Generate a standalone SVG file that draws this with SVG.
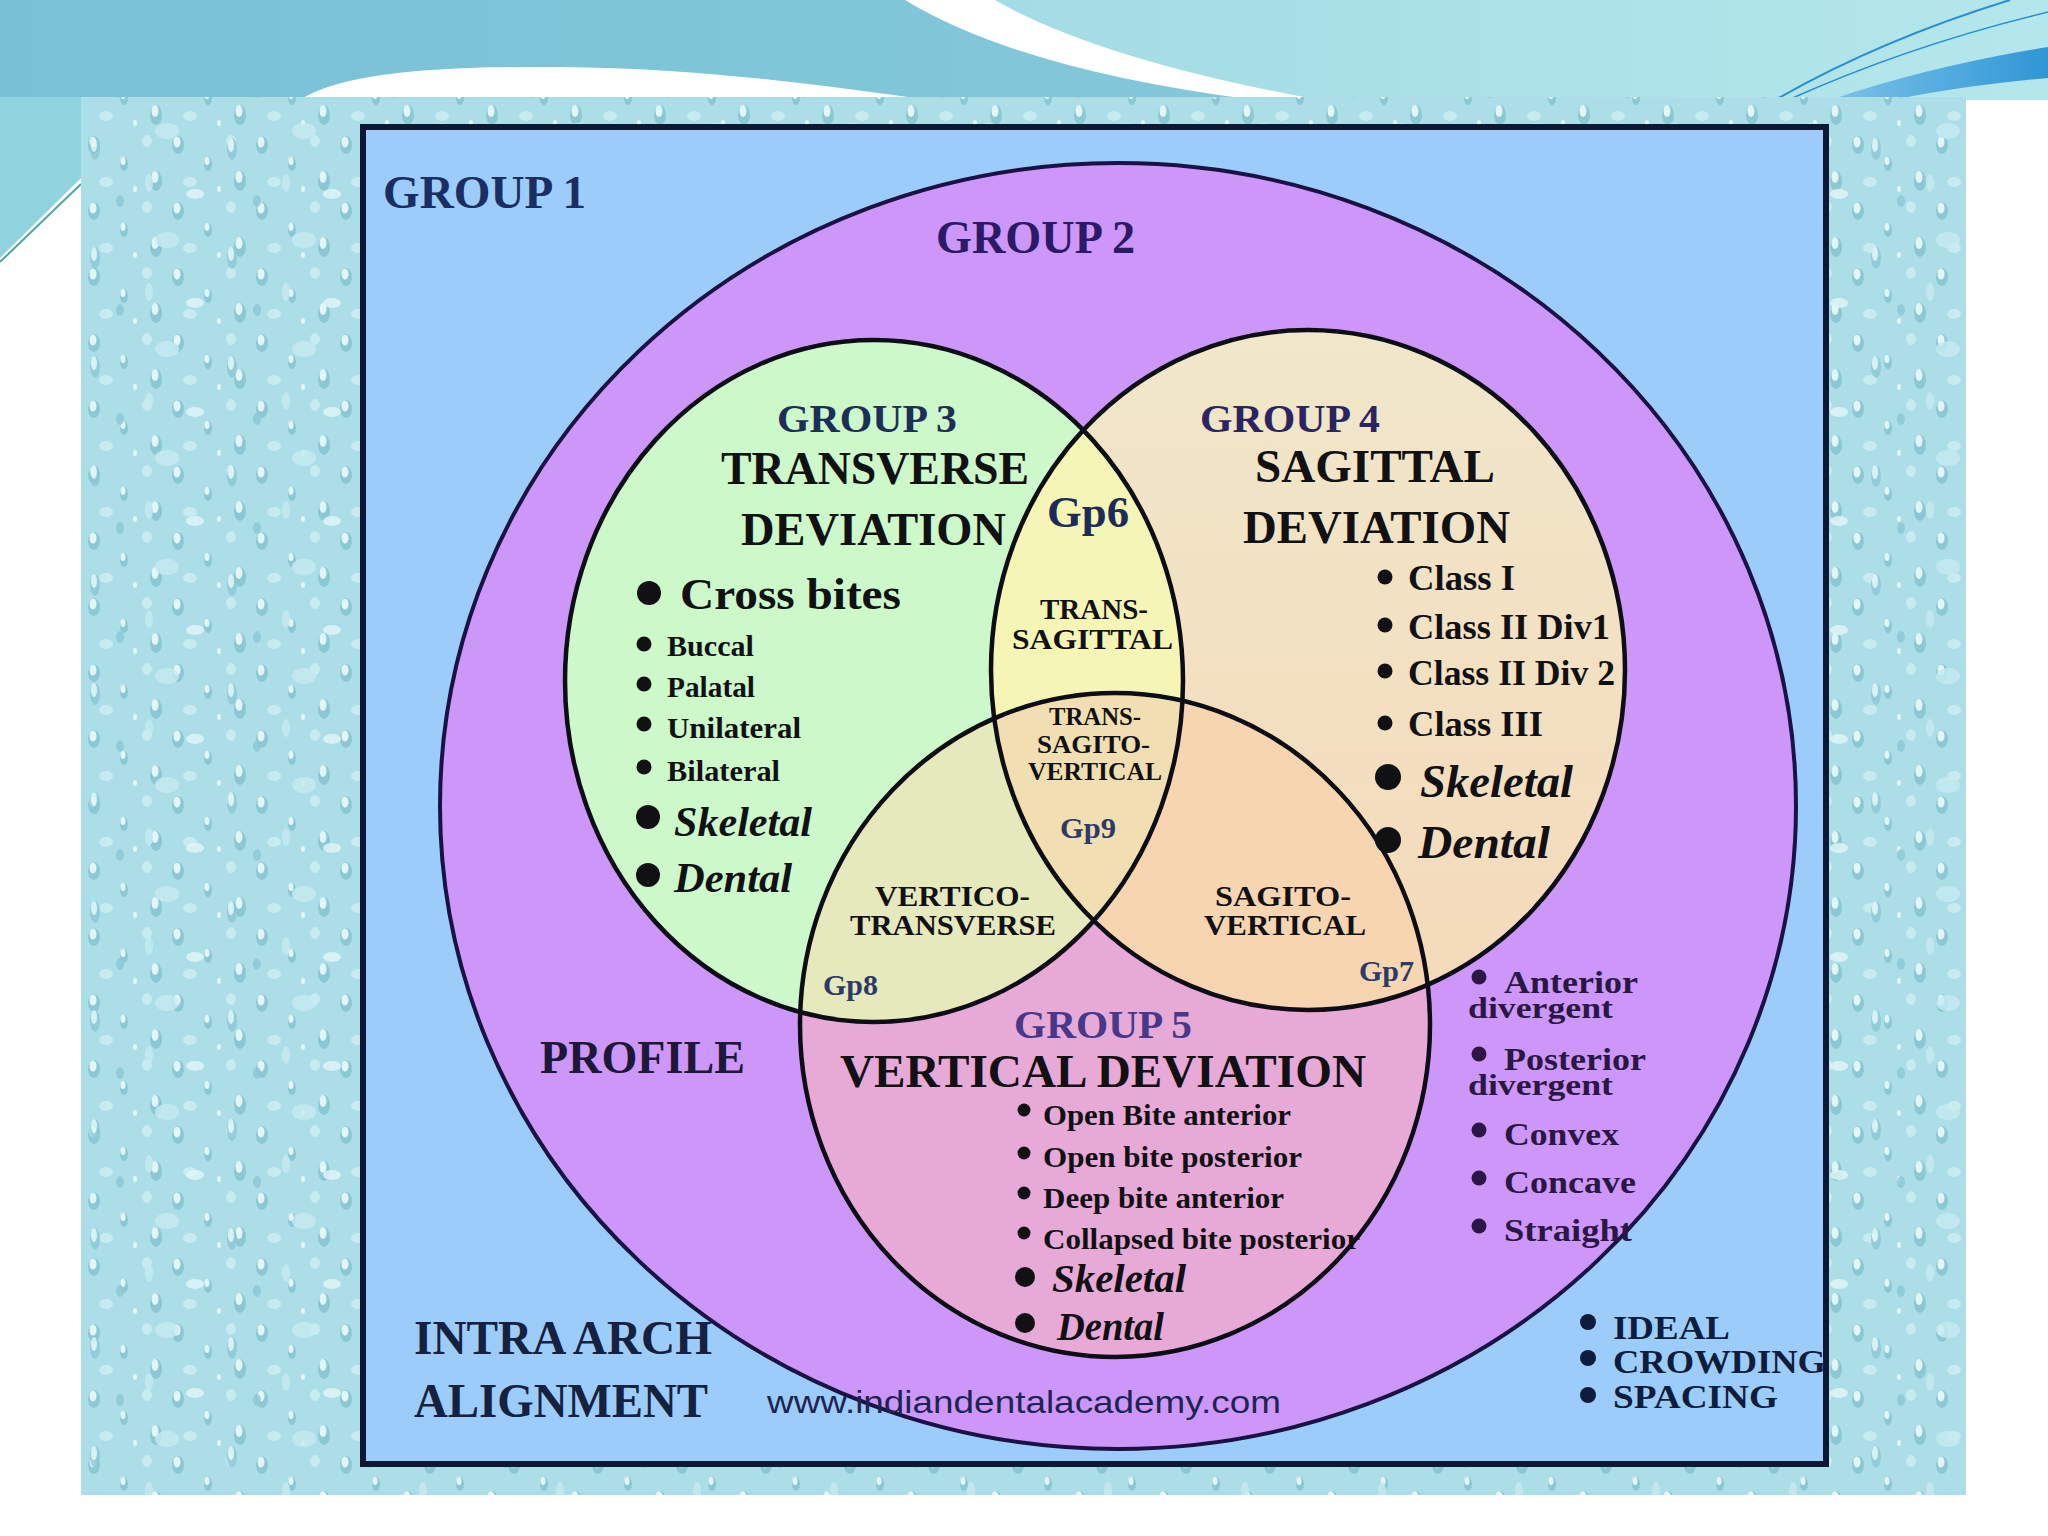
<svg xmlns="http://www.w3.org/2000/svg" xmlns:xlink="http://www.w3.org/1999/xlink" width="2048" height="1536" viewBox="0 0 2048 1536">
<defs>
<style>
.s{font-family:"Liberation Serif","Times New Roman",serif;font-weight:bold;}
.i{font-style:italic;}
.k{fill:#111114;}
.pl{fill:#2a1744;}
.nv{fill:#16213f;}
.gp{fill:#2c3a66;}
.wm{font-family:"Liberation Sans",Arial,sans-serif;font-size:32px;fill:#1e2452;}
.ol{fill:none;stroke:#0d0d16;stroke-width:4.5;}
.dk{fill:#8cc8d4;}
.lt{fill:#e2f6f8;}
.md{fill:#c6ebf1;}
</style>
<linearGradient id="hdrL" x1="0" y1="0" x2="1" y2="0"><stop offset="0" stop-color="#78c1d6"/><stop offset="1" stop-color="#8acddc"/></linearGradient>
<linearGradient id="hdrR" x1="0" y1="0" x2="1" y2="0"><stop offset="0" stop-color="#a3dce4"/><stop offset="1" stop-color="#b4e7eb"/></linearGradient>
<linearGradient id="band" x1="0" y1="0" x2="1" y2="0"><stop offset="0" stop-color="#7cc3e6"/><stop offset="1" stop-color="#2f96d6"/></linearGradient>
<linearGradient id="g4" x1="0" y1="0" x2="0" y2="1"><stop offset="0" stop-color="#f1e7ca"/><stop offset="1" stop-color="#f4dab9"/></linearGradient>
<pattern id="dropsA" width="84" height="66" patternUnits="userSpaceOnUse">
<rect width="84" height="66" fill="#acdee8"/>
<ellipse class="dk" cx="10" cy="13" rx="6" ry="9"/>
<ellipse class="lt" cx="9" cy="10" rx="3.5" ry="5.5"/>
<ellipse class="dk" cx="40" cy="32" rx="4" ry="7"/>
<ellipse class="lt" cx="39" cy="29" rx="2.5" ry="4"/>
<ellipse class="md" cx="63" cy="9" rx="5" ry="6"/>
<ellipse class="dk" cx="72" cy="49" rx="6" ry="10"/>
<ellipse class="lt" cx="71" cy="45" rx="3.5" ry="6"/>
<ellipse class="md" cx="22" cy="50" rx="7" ry="5"/>
<ellipse class="lt" cx="51" cy="57" rx="2" ry="3"/>
</pattern>
<pattern id="dropsB" width="137" height="109" patternUnits="userSpaceOnUse">
<ellipse class="md" cx="30" cy="22" rx="12" ry="8"/>
<ellipse class="dk" cx="95" cy="40" rx="5" ry="11"/>
<ellipse class="lt" cx="94" cy="36" rx="3" ry="7"/>
<ellipse class="lt" cx="58" cy="85" rx="9" ry="5"/>
<ellipse class="dk" cx="120" cy="92" rx="4" ry="6"/>
<ellipse class="md" cx="12" cy="74" rx="4" ry="9"/>
</pattern>
<ellipse id="e3" cx="874" cy="681" rx="309" ry="341"/>
<ellipse id="e4" cx="1308" cy="670" rx="317" ry="340"/>
<ellipse id="e5" cx="1115" cy="1025" rx="315" ry="332"/>
<clipPath id="c3"><use xlink:href="#e3"/></clipPath>
<clipPath id="c4"><use xlink:href="#e4"/></clipPath>
</defs>

<g id="background">
<rect width="2048" height="1536" fill="#ffffff"/>
<rect x="0" y="0" width="2048" height="100" fill="url(#hdrL)"/>
<path d="M995 0 Q1100 60 1320 100 L2048 100 L2048 0 Z" fill="url(#hdrR)"/>
<path d="M905 0 Q1020 70 1255 100 L1320 100 Q1100 60 995 0 Z" fill="#ffffff"/>
<path d="M300 100 C340 75 420 66 560 67 C700 68 820 85 930 100 Z" fill="#ffffff"/>
<path d="M1830 100 Q1930 66 2048 47 L2048 78 Q1960 86 1893 100 Z" fill="url(#band)"/>
<path d="M1775 100 Q1880 40 2010 0" fill="none" stroke="#2b8fcf" stroke-width="2"/>
<path d="M1788 100 Q1910 45 2048 12" fill="none" stroke="#2b8fcf" stroke-width="1.5"/>
<path d="M0 97 L81 97 L81 178 L0 258 Z" fill="#8fd3df"/>
<path d="M0 262 L81 184" fill="none" stroke="#49a9a0" stroke-width="2"/>
<rect x="81" y="97" width="1885" height="1398" fill="url(#dropsA)"/>
<rect x="81" y="97" width="1885" height="1398" fill="url(#dropsB)" opacity="0.8"/>
</g>

<g id="group1">
<rect x="363" y="127" width="1463" height="1337" fill="#9ccdfa" stroke="#0e1733" stroke-width="6"/>
<text class="s" x="383" y="208" font-size="46" fill="#1b2d63" textLength="203" lengthAdjust="spacingAndGlyphs">GROUP 1</text>
<text class="s nv" x="414" y="1354" font-size="48" textLength="298" lengthAdjust="spacingAndGlyphs">INTRA ARCH</text>
<text class="s nv" x="414" y="1417" font-size="48" textLength="294" lengthAdjust="spacingAndGlyphs">ALIGNMENT</text>
<circle cx="1588" cy="1322" r="8" fill="#0f1d3c"/>
<circle cx="1588" cy="1358" r="8" fill="#0f1d3c"/>
<circle cx="1588" cy="1395" r="8" fill="#0f1d3c"/>
<text class="s" x="1613" y="1339" font-size="33" fill="#0f1d3c" textLength="117" lengthAdjust="spacingAndGlyphs">IDEAL</text>
<text class="s" x="1613" y="1373" font-size="33" fill="#0f1d3c" textLength="213" lengthAdjust="spacingAndGlyphs">CROWDING</text>
<text class="s" x="1613" y="1408" font-size="33" fill="#0f1d3c" textLength="165" lengthAdjust="spacingAndGlyphs">SPACING</text>
</g>

<g id="group2">
<ellipse cx="1118" cy="806" rx="678" ry="643" fill="#cc97f9" stroke="#1a1245" stroke-width="4"/>
<text class="s" x="936" y="253" font-size="46" fill="#2b1a66" textLength="199" lengthAdjust="spacingAndGlyphs">GROUP 2</text>
<text class="s" x="540" y="1073" font-size="46" fill="#1c1838" textLength="205" lengthAdjust="spacingAndGlyphs">PROFILE</text>
<g class="pl">
<circle cx="1479" cy="977" r="7.5"/>
<circle cx="1479" cy="1054" r="7.5"/>
<circle cx="1479" cy="1130" r="7.5"/>
<circle cx="1479" cy="1178" r="7.5"/>
<circle cx="1479" cy="1226" r="7.5"/>
<text class="s" x="1504" y="993" font-size="32" textLength="134" lengthAdjust="spacingAndGlyphs">Anterior</text>
<text class="s" x="1468" y="1018" font-size="30" textLength="145" lengthAdjust="spacingAndGlyphs">divergent</text>
<text class="s" x="1504" y="1070" font-size="32" textLength="142" lengthAdjust="spacingAndGlyphs">Posterior</text>
<text class="s" x="1468" y="1095" font-size="30" textLength="145" lengthAdjust="spacingAndGlyphs">divergent</text>
<text class="s" x="1504" y="1145" font-size="32" textLength="115" lengthAdjust="spacingAndGlyphs">Convex</text>
<text class="s" x="1504" y="1193" font-size="32" textLength="132" lengthAdjust="spacingAndGlyphs">Concave</text>
<text class="s" x="1504" y="1241" font-size="32" textLength="128" lengthAdjust="spacingAndGlyphs">Straight</text>
</g>
</g>

<g id="group3">
<use xlink:href="#e3" fill="#ccf8ca"/>
</g>
<g id="group4">
<use xlink:href="#e4" fill="url(#g4)"/>
</g>
<g id="group5">
<use xlink:href="#e5" fill="#e7a9d6"/>
</g>
<g id="gp6">
<use xlink:href="#e4" fill="#f5f5b6" clip-path="url(#c3)"/>
</g>
<g id="gp8">
<use xlink:href="#e5" fill="#e6e9bb" clip-path="url(#c3)"/>
</g>
<g id="gp7">
<use xlink:href="#e5" fill="#f6d5b0" clip-path="url(#c4)"/>
</g>
<g id="gp9">
<g clip-path="url(#c3)"><use xlink:href="#e5" fill="#f1dfb1" clip-path="url(#c4)"/></g>
</g>

<g id="outlines">
<use xlink:href="#e3" class="ol"/>
<use xlink:href="#e4" class="ol"/>
<use xlink:href="#e5" class="ol"/>
</g>

<g id="group3-labels">
<text class="s" x="777" y="432" font-size="41" fill="#1d2e58" textLength="180" lengthAdjust="spacingAndGlyphs">GROUP 3</text>
<text class="s k" x="721" y="484" font-size="46" textLength="308" lengthAdjust="spacingAndGlyphs">TRANSVERSE</text>
<text class="s k" x="741" y="545" font-size="46" textLength="265" lengthAdjust="spacingAndGlyphs">DEVIATION</text>
<g class="k">
<circle cx="649" cy="593" r="12"/>
<circle cx="644" cy="644" r="7.5"/>
<circle cx="644" cy="684" r="7.5"/>
<circle cx="644" cy="724" r="7.5"/>
<circle cx="644" cy="767" r="7.5"/>
<circle cx="648" cy="817" r="12"/>
<circle cx="648" cy="875" r="12"/>
</g>
<text class="s k" x="680" y="609" font-size="44" textLength="221" lengthAdjust="spacingAndGlyphs">Cross bites</text>
<text class="s k" x="667" y="656" font-size="30" textLength="87" lengthAdjust="spacingAndGlyphs">Buccal</text>
<text class="s k" x="667" y="697" font-size="30" textLength="88" lengthAdjust="spacingAndGlyphs">Palatal</text>
<text class="s k" x="667" y="738" font-size="30" textLength="134" lengthAdjust="spacingAndGlyphs">Unilateral</text>
<text class="s k" x="667" y="781" font-size="30" textLength="113" lengthAdjust="spacingAndGlyphs">Bilateral</text>
<text class="s i k" x="674" y="836" font-size="42" textLength="138" lengthAdjust="spacingAndGlyphs">Skeletal</text>
<text class="s i k" x="674" y="892" font-size="42" textLength="118" lengthAdjust="spacingAndGlyphs">Dental</text>
</g>

<g id="group4-labels">
<text class="s" x="1200" y="432" font-size="41" fill="#2a2462" textLength="180" lengthAdjust="spacingAndGlyphs">GROUP 4</text>
<text class="s k" x="1255" y="482" font-size="46" textLength="240" lengthAdjust="spacingAndGlyphs">SAGITTAL</text>
<text class="s k" x="1243" y="543" font-size="46" textLength="267" lengthAdjust="spacingAndGlyphs">DEVIATION</text>
<g class="k">
<circle cx="1385" cy="577" r="7.5"/>
<circle cx="1385" cy="625" r="7.5"/>
<circle cx="1385" cy="671" r="7.5"/>
<circle cx="1385" cy="723" r="7.5"/>
<circle cx="1388" cy="777" r="13"/>
<circle cx="1388" cy="840" r="13"/>
</g>
<text class="s k" x="1408" y="590" font-size="35" textLength="107" lengthAdjust="spacingAndGlyphs">Class I</text>
<text class="s k" x="1408" y="639" font-size="35" textLength="202" lengthAdjust="spacingAndGlyphs">Class II Div1</text>
<text class="s k" x="1408" y="685" font-size="35" textLength="207" lengthAdjust="spacingAndGlyphs">Class II Div 2</text>
<text class="s k" x="1408" y="736" font-size="35" textLength="135" lengthAdjust="spacingAndGlyphs">Class III</text>
<text class="s i k" x="1420" y="797" font-size="46" textLength="153" lengthAdjust="spacingAndGlyphs">Skeletal</text>
<text class="s i k" x="1418" y="858" font-size="46" textLength="132" lengthAdjust="spacingAndGlyphs">Dental</text>
</g>

<g id="group5-labels">
<text class="s" x="1014" y="1038" font-size="41" fill="#46388a" textLength="178" lengthAdjust="spacingAndGlyphs">GROUP 5</text>
<text class="s k" x="840" y="1087" font-size="46" textLength="526" lengthAdjust="spacingAndGlyphs">VERTICAL DEVIATION</text>
<g class="k">
<circle cx="1024" cy="1110" r="6.5"/>
<circle cx="1024" cy="1153" r="6.5"/>
<circle cx="1024" cy="1193" r="6.5"/>
<circle cx="1024" cy="1233" r="6.5"/>
<circle cx="1025" cy="1277" r="10"/>
<circle cx="1025" cy="1323" r="10"/>
</g>
<text class="s k" x="1043" y="1125" font-size="30" textLength="248" lengthAdjust="spacingAndGlyphs">Open Bite anterior</text>
<text class="s k" x="1043" y="1167" font-size="30" textLength="259" lengthAdjust="spacingAndGlyphs">Open bite posterior</text>
<text class="s k" x="1043" y="1208" font-size="30" textLength="241" lengthAdjust="spacingAndGlyphs">Deep bite anterior</text>
<text class="s k" x="1043" y="1249" font-size="30" textLength="317" lengthAdjust="spacingAndGlyphs">Collapsed bite posterior</text>
<text class="s i k" x="1052" y="1292" font-size="40" textLength="134" lengthAdjust="spacingAndGlyphs">Skeletal</text>
<text class="s i k" x="1057" y="1340" font-size="40" textLength="107" lengthAdjust="spacingAndGlyphs">Dental</text>
</g>

<g id="gp6-labels">
<text class="s" x="1047" y="527" font-size="44" fill="#1d2b58" textLength="82" lengthAdjust="spacingAndGlyphs">Gp6</text>
<text class="s k" x="1040" y="619" font-size="29" textLength="108" lengthAdjust="spacingAndGlyphs">TRANS-</text>
<text class="s k" x="1012" y="649" font-size="29" textLength="161" lengthAdjust="spacingAndGlyphs">SAGITTAL</text>
</g>
<g id="gp9-labels">
<text class="s k" x="1049" y="725" font-size="25" textLength="92" lengthAdjust="spacingAndGlyphs">TRANS-</text>
<text class="s k" x="1037" y="753" font-size="25" textLength="113" lengthAdjust="spacingAndGlyphs">SAGITO-</text>
<text class="s k" x="1028" y="780" font-size="25" textLength="134" lengthAdjust="spacingAndGlyphs">VERTICAL</text>
<text class="s gp" x="1060" y="838" font-size="30" textLength="56" lengthAdjust="spacingAndGlyphs">Gp9</text>
</g>
<g id="gp8-labels">
<text class="s k" x="875" y="906" font-size="30" textLength="155" lengthAdjust="spacingAndGlyphs">VERTICO-</text>
<text class="s k" x="850" y="935" font-size="30" textLength="206" lengthAdjust="spacingAndGlyphs">TRANSVERSE</text>
<text class="s gp" x="823" y="995" font-size="30" textLength="55" lengthAdjust="spacingAndGlyphs">Gp8</text>
</g>
<g id="gp7-labels">
<text class="s k" x="1215" y="906" font-size="30" textLength="136" lengthAdjust="spacingAndGlyphs">SAGITO-</text>
<text class="s k" x="1204" y="935" font-size="30" textLength="162" lengthAdjust="spacingAndGlyphs">VERTICAL</text>
<text class="s gp" x="1359" y="981" font-size="30" textLength="55" lengthAdjust="spacingAndGlyphs">Gp7</text>
</g>

<g id="watermark">
<text class="wm" x="767" y="1413" textLength="514" lengthAdjust="spacingAndGlyphs">www.indiandentalacademy.com</text>
</g>
</svg>
